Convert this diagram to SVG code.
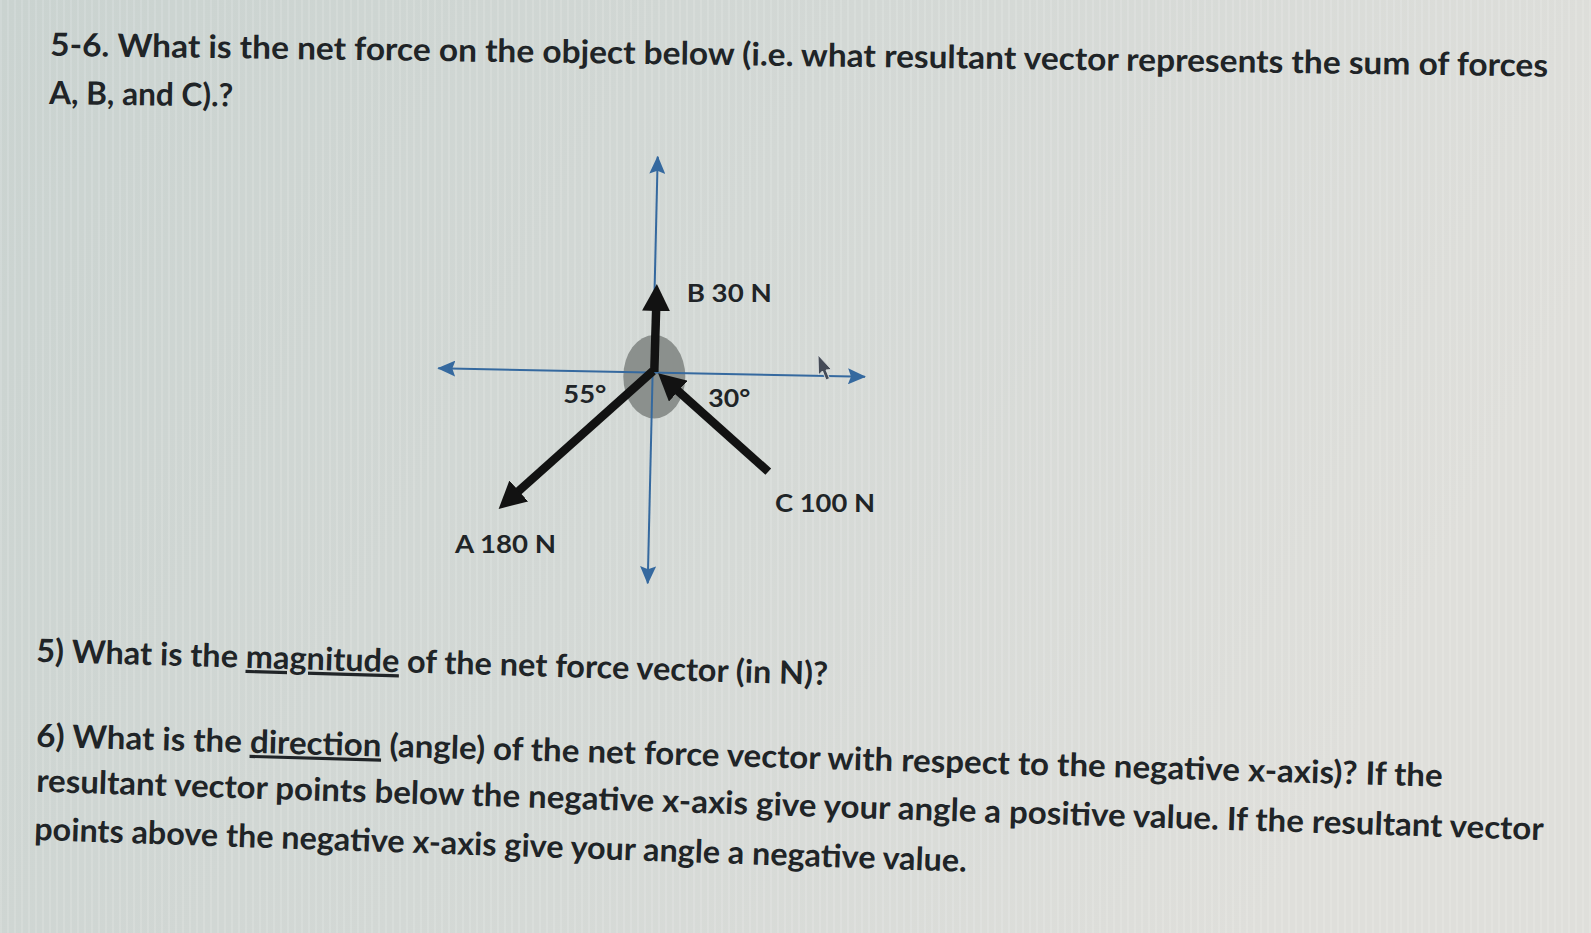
<svg xmlns="http://www.w3.org/2000/svg" width="1591" height="933" viewBox="0 0 1591 933">
<defs>
<linearGradient id="bg" x1="0" y1="0" x2="1" y2="0.3">
<stop offset="0" stop-color="#cad3d0"/>
<stop offset="0.5" stop-color="#d3d8d5"/>
<stop offset="1" stop-color="#dfdfdb"/>
</linearGradient>
<pattern id="stripes" width="7" height="10" patternUnits="userSpaceOnUse">
<rect x="0" y="0" width="2" height="10" fill="#ffffff" opacity="0.12"/>
</pattern>
<marker id="ax" markerUnits="userSpaceOnUse" markerWidth="18" markerHeight="16" refX="17" refY="8" orient="auto-start-reverse">
<path d="M0,0 L18,8 L0,16 L3,8 z" fill="#35699f"/>
</marker>
<marker id="fh" markerUnits="userSpaceOnUse" markerWidth="28" markerHeight="28" refX="1" refY="14" orient="auto">
<path d="M0,0 L27,14 L0,28 z" fill="#121212"/>
</marker>
</defs>
<style>
.t{font-family:Lato,"Open Sans","Liberation Sans",sans-serif;font-weight:700;fill:#202427;}
.q{font-size:32px;}
.lbl{font-size:24px;}
.axis{stroke:#35699f;stroke-width:2;fill:none;}
.force{stroke:#121212;stroke-width:8.5;fill:none;stroke-linecap:butt;}
</style>
<rect width="1591" height="933" fill="url(#bg)"/>
<rect width="1591" height="933" fill="url(#stripes)"/>

<g id="question-title">
<text class="t q" x="50" y="55.7" textLength="1498" lengthAdjust="spacingAndGlyphs" transform="rotate(0.8 50 55.7)">5-6. What is the net force on the object below (i.e. what resultant vector represents the sum of forces</text>
<text class="t q" x="49" y="104" textLength="184" lengthAdjust="spacingAndGlyphs" transform="rotate(0.8 49 104)">A, B, and C).?</text>
</g>

<g id="object">
<ellipse cx="654.3" cy="376.7" rx="31" ry="41.7" fill="#8b908d"/>
</g>

<g id="axes">
<line class="axis" x1="657.7" y1="156.7" x2="647.7" y2="583.3" marker-start="url(#ax)" marker-end="url(#ax)"/>
<line class="axis" x1="438.3" y1="368.3" x2="865" y2="376.7" marker-start="url(#ax)" marker-end="url(#ax)"/>
</g>

<g id="connectors">
<line id="force-B" class="force" x1="654.3" y1="372" x2="656.1" y2="310" marker-end="url(#fh)"/>
<line id="force-A" class="force" x1="653" y1="371" x2="518" y2="491.6" marker-end="url(#fh)"/>
<line id="force-C" class="force" x1="768.3" y1="471.7" x2="677.5" y2="390.5" marker-end="url(#fh)"/>
</g>

<g id="label-B"><text class="t lbl" x="686.7" y="301.7" textLength="85" lengthAdjust="spacingAndGlyphs">B 30 N</text></g>
<g id="label-55"><text class="t lbl" x="563.3" y="403" textLength="43" lengthAdjust="spacingAndGlyphs">55°</text></g>
<g id="label-30"><text class="t lbl" x="708.3" y="406.7" textLength="42" lengthAdjust="spacingAndGlyphs">30°</text></g>
<g id="label-C"><text class="t lbl" x="775" y="511.7" textLength="100" lengthAdjust="spacingAndGlyphs">C 100 N</text></g>
<g id="label-A"><text class="t lbl" x="455" y="553.3" textLength="101" lengthAdjust="spacingAndGlyphs">A 180 N</text></g>

<g id="cursor">
<path d="M818,355 L818.5,375 L822.5,371 L826,380 L829.5,378.5 L826,370 L831.5,369.5 z" fill="#454b57" stroke="#d8dcdc" stroke-width="1"/>
</g>

<g id="question-5">
<text class="t q" x="36" y="661.7" textLength="792" lengthAdjust="spacingAndGlyphs" transform="rotate(1.68 36 661.7)">5) What is the <tspan text-decoration="underline">magnitude</tspan> of the net force vector (in N)?</text>
</g>

<g id="question-6">
<text class="t q" x="36" y="746.7" textLength="1407" lengthAdjust="spacingAndGlyphs" transform="rotate(1.63 36 746.7)">6) What is the <tspan text-decoration="underline">direction</tspan> (angle) of the net force vector with respect to the negative x-axis)? If the</text>
<text class="t q" x="36" y="791.7" textLength="1508" lengthAdjust="spacingAndGlyphs" transform="rotate(1.84 36 791.7)">resultant vector points below the negative x-axis give your angle a positive value. If the resultant vector</text>
<text class="t q" x="34" y="840" textLength="933" lengthAdjust="spacingAndGlyphs" transform="rotate(1.95 34 840)">points above the negative x-axis give your angle a negative value.</text>
</g>
</svg>
